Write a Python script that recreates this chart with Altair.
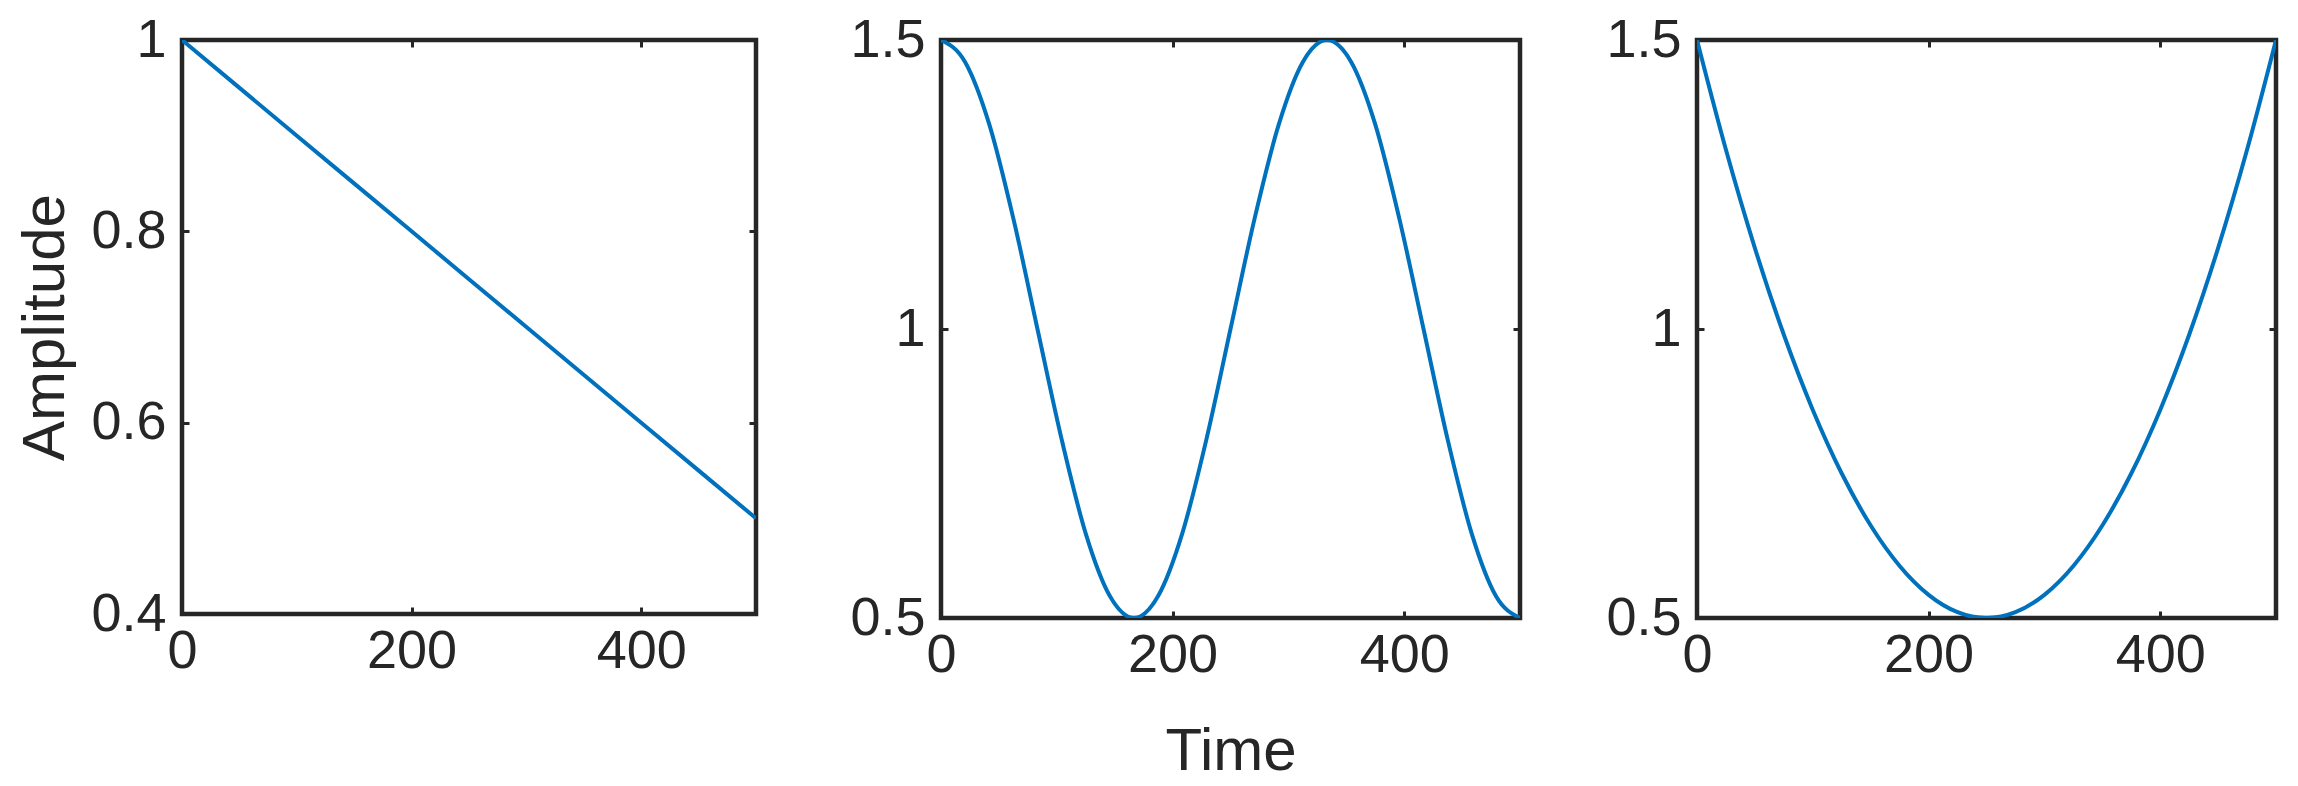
import altair as alt
import pandas as pd

# Panel 1: linear decay
time1 = [0, 100, 200, 300, 400, 500]
amp1 = [1.0, 0.9, 0.8, 0.7, 0.6, 0.5]

# Panel 2: oscillation
time2 = [0, 20.8, 41.7, 62.5, 83.3, 104.2, 125, 145.8, 166.7, 187.5, 208.3, 229.2,
         250, 270.8, 291.7, 312.5, 333.3, 354.2, 375, 395.8, 416.7, 437.5, 458.3,
         479.2, 500]
amp2 = [1.5, 1.462, 1.354, 1.191, 1.0, 0.809, 0.646, 0.538, 0.5, 0.538, 0.646,
        0.809, 1.0, 1.191, 1.354, 1.462, 1.5, 1.462, 1.354, 1.191, 1.0, 0.809,
        0.646, 0.538, 0.5]

# Panel 3: parabola
time3 = [0, 25, 50, 75, 100, 125, 150, 175, 200, 225, 250, 275, 300, 325, 350,
         375, 400, 425, 450, 475, 500]
amp3 = [1.5, 1.31, 1.14, 0.99, 0.86, 0.75, 0.66, 0.59, 0.54, 0.51, 0.5, 0.51,
        0.54, 0.59, 0.66, 0.75, 0.86, 0.99, 1.14, 1.31, 1.5]

x_ticks = [0, 200, 400]
y_ticks1 = [0.4, 0.6, 0.8, 1.0]
y_ticks23 = [0.5, 1.0, 1.5]

INK = "#262626"
LINE = "#0072BD"
FONT = "Liberation Sans"
TICK = 7


def panel(times, amps, ydom, yticks, w, h, xtitle=None, ytitle=None):
    df = pd.DataFrame({"t": times, "a": amps})
    base = alt.Chart(df)
    xs = alt.Scale(domain=[0, 500], nice=False, zero=False)
    ys = alt.Scale(domain=ydom, nice=False, zero=False)
    main = base.mark_line(color=LINE, strokeWidth=4, interpolate="monotone", clip=True).encode(
        x=alt.X("t:Q", scale=xs, title=xtitle,
                axis=alt.Axis(orient="bottom", values=x_ticks, format="d",
                              labelPadding=10, titlePadding=40)),
        y=alt.Y("a:Q", scale=ys, title=ytitle,
                axis=alt.Axis(orient="left", values=yticks, format=".1~f",
                              labelPadding=16, titlePadding=14)),
    )
    ghost = base.mark_line(opacity=0).encode(
        x=alt.X("t:Q", scale=xs, title=None,
                axis=alt.Axis(orient="top", values=x_ticks, labels=False)),
        y=alt.Y("a:Q", scale=ys, title=None,
                axis=alt.Axis(orient="right", values=yticks, labels=False)),
    )
    return alt.layer(main, ghost).resolve_axis(x="independent", y="independent").properties(
        width=w, height=h)


p1 = panel(time1, amp1, [0.4, 1.0], y_ticks1, 574, 574, ytitle="Amplitude")
p2 = panel(time2, amp2, [0.5, 1.5], y_ticks23, 579, 578, xtitle="Time")
p3 = panel(time3, amp3, [0.5, 1.5], y_ticks23, 579, 578)

chart = alt.hconcat(alt.hconcat(p1, p2, spacing=87), p3, spacing=79).configure_view(
    stroke=INK, strokeWidth=4.5
).configure_axis(
    domain=False, grid=False, ticks=True, tickColor=INK, tickWidth=3,
    tickSize=TICK, offset=-TICK, labelFlush=False, labelOverlap=False,
    labelFont=FONT, labelFontSize=54, labelColor=INK,
    titleFont=FONT, titleFontSize=60, titleColor=INK, titleFontWeight="normal",
).properties(
    padding={"left": 5, "top": 2, "right": 5, "bottom": 5},
    background="white",
)

chart.save("out.html", embed_options={"renderer": "svg", "actions": False})
